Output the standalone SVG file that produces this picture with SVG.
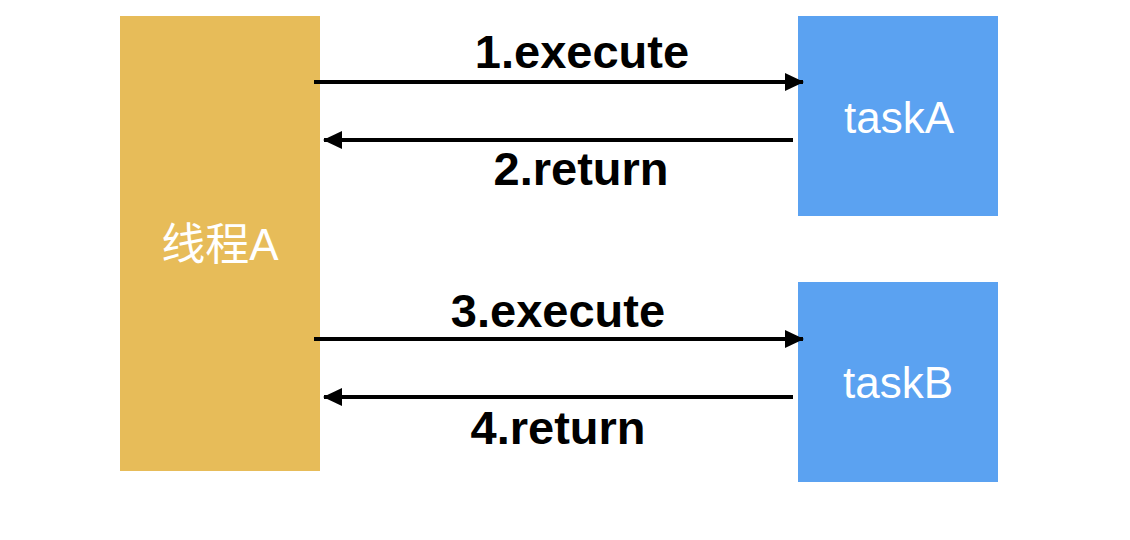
<svg xmlns="http://www.w3.org/2000/svg" width="1130" height="540" viewBox="0 0 1130 540">
<defs>
<marker id="ah" viewBox="0 0 20 20" markerWidth="20" markerHeight="20" refX="18" refY="10" markerUnits="userSpaceOnUse" orient="auto">
<path d="M0,1 L19,10 L0,19 Z" fill="#000"/>
</marker>
<style>
.lbl{font-family:"Liberation Sans",Arial,sans-serif;font-weight:bold;font-size:47px;fill:#000;text-anchor:middle}
.wt{font-family:"Liberation Sans","Noto Sans CJK SC",sans-serif;font-size:44px;fill:#fff;text-anchor:middle}
.conn{stroke:#000;stroke-width:4;fill:none;marker-end:url(#ah)}
</style>
</defs>
<rect width="1130" height="540" fill="#fff"/>
<g id="threadA">
<rect x="120" y="16" width="200" height="455" fill="#E7BC59"/>
<text class="wt" x="220" y="260">线程A</text>
</g>
<g id="taskA">
<rect x="798" y="16" width="200" height="200" fill="#5BA2F1"/>
<text class="wt" x="899" y="133">taskA</text>
</g>
<g id="taskB">
<rect x="798" y="282" width="200" height="200" fill="#5BA2F1"/>
<text class="wt" x="898" y="398">taskB</text>
</g>
<g id="connectors">
<line class="conn" x1="314" y1="82" x2="803" y2="82"/>
<line class="conn" x1="793" y1="140" x2="324" y2="140"/>
<line class="conn" x1="314" y1="339" x2="803" y2="339"/>
<line class="conn" x1="793" y1="397" x2="324" y2="397"/>
<text class="lbl" x="582" y="68">1.execute</text>
<text class="lbl" x="581" y="185">2.return</text>
<text class="lbl" x="558" y="327">3.execute</text>
<text class="lbl" x="558" y="444">4.return</text>
</g>
</svg>
